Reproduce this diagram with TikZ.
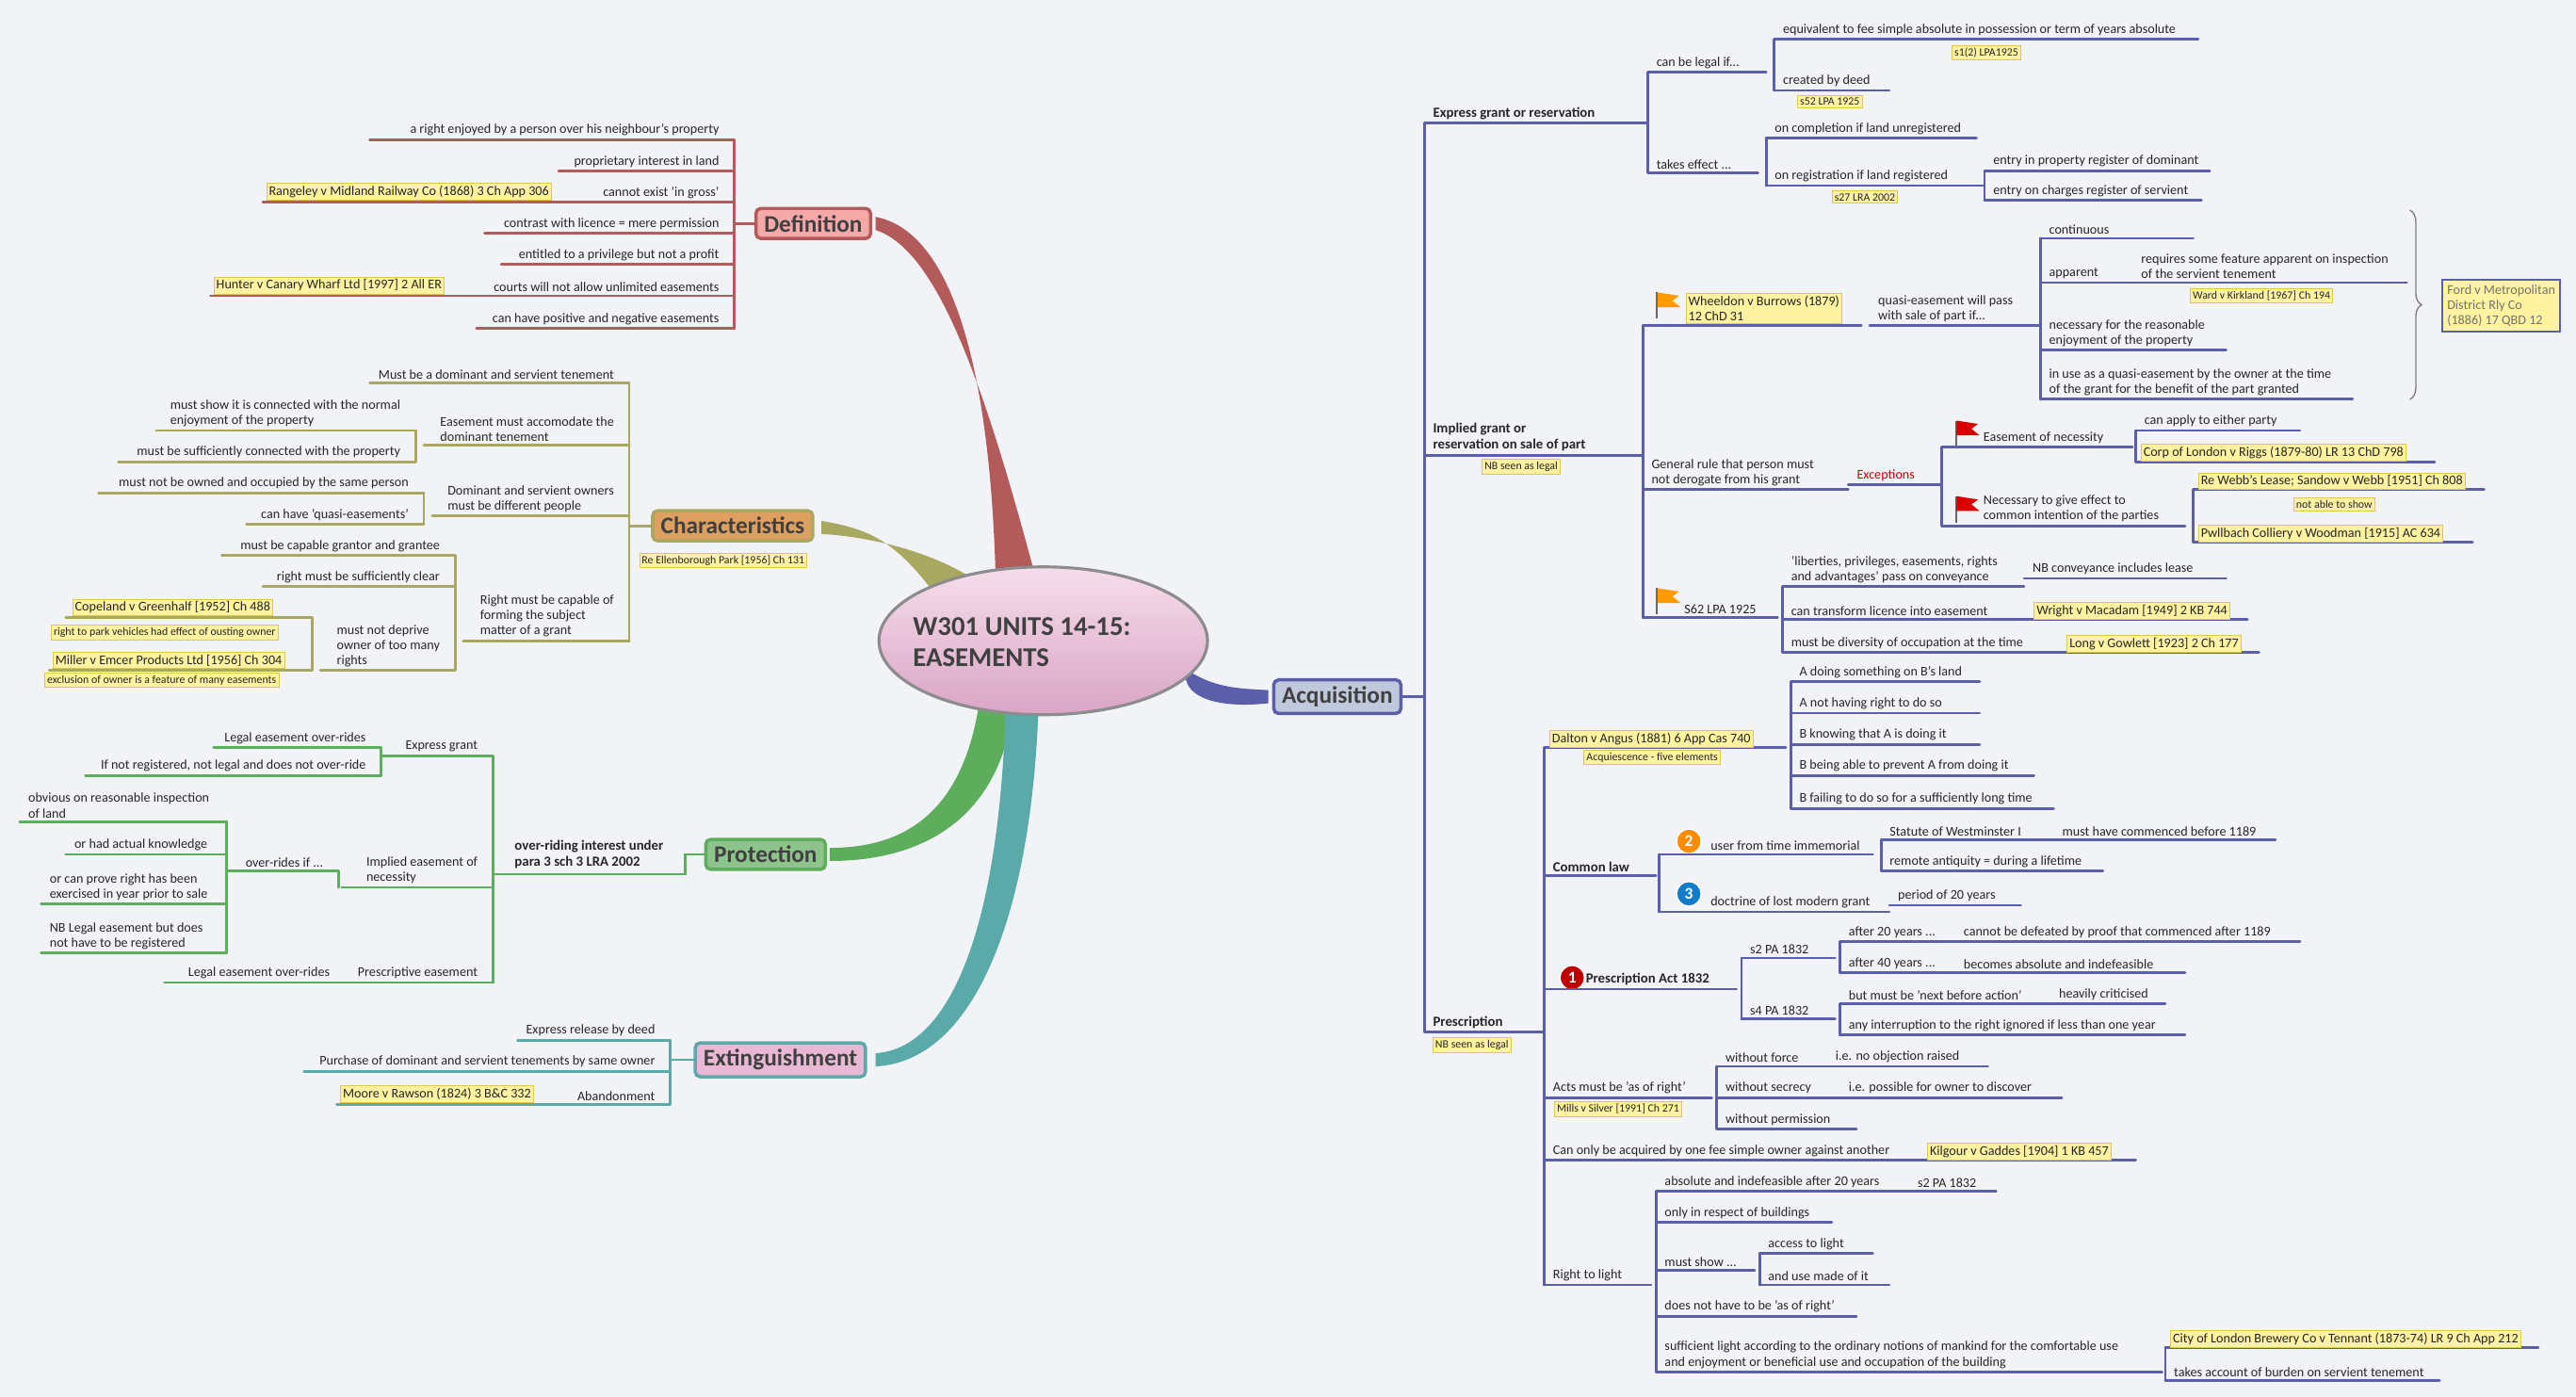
\documentclass[tikz,border=0pt]{standalone}
\usepackage{fontspec}
\setmainfont{Carlito}
\usetikzlibrary{decorations.pathreplacing,shapes.geometric}
\definecolor{acq}{HTML}{5B5EA8}
\definecolor{defc}{HTML}{B35A5A}
\definecolor{chc}{HTML}{A8A860}
\definecolor{prc}{HTML}{5CAE5C}
\definecolor{exc}{HTML}{5AAAAA}
\definecolor{tagf}{HTML}{FFF2A0}
\definecolor{tagd}{HTML}{E0C850}
\definecolor{bg}{HTML}{F2F3F7}
\definecolor{cbot}{HTML}{D9A5C5}
\definecolor{ctop}{HTML}{F6DDEB}
\definecolor{deff}{HTML}{F4A8A8}
\definecolor{chf}{HTML}{DDA060}
\definecolor{prf}{HTML}{8CC48C}
\definecolor{exf}{HTML}{E8B8D4}
\definecolor{acf}{HTML}{C0C8DC}
\tikzset{
 tx/.style={font=\fontsize{8.1}{9.2}\selectfont,text=black!85,inner sep=1.5pt,align=left},
 tag/.style={fill=tagf,draw=tagd,line width=0.4pt,inner sep=1.5pt},
 stag/.style={tx,tag,font=\fontsize{6.8}{7.5}\selectfont},
 bold/.style={font=\fontsize{8.5}{9.8}\selectfont\bfseries},
 main/.style={draw=#1,line width=2pt,rounded corners=3pt,font=\fontsize{14.5}{16}\selectfont\bfseries,text=black!75,inner xsep=5pt,inner ysep=4pt},
}
\newcommand\R[5][]{\draw (#2,#4)--(#3,#4); \node[tx,anchor=south west,#1] at (#2+3,#4) {#5};}
\newcommand\Lt[5][]{\draw (#2,#4)--(#3,#4); \node[tx,anchor=south east,#1] at (#3-7,#4) {#5};}
\newcommand\V[3]{\draw (#1,#2)--(#1,#3);}
\newcommand\T[4][]{\node[stag,anchor=west,#1] at (#2,#3) {#4};}
\newcommand\flag[3]{\fill[black!60] (#1,#2) rectangle (#1+1.2,#2+16);\fill[#3] (#1+1,#2) -- (#1+14,#2+2) -- (#1+10,#2+5) -- (#1+15,#2+9) -- (#1+1,#2+9) -- cycle;}
\newcommand\num[4]{\node[circle,fill=#3,draw=white,line width=0.8pt,text=white,inner sep=0pt,minimum size=15pt,font=\bfseries\fontsize{10}{10}\selectfont] at (#1,#2) {#4};}
\begin{document}
\begin{tikzpicture}[x=1pt,y=-1pt,line cap=round]
\useasboundingbox (0,0) rectangle (1568,850);
\fill[bg] (0,0) rectangle (1568,850);
% main curves
\fill[defc] (606,350) .. controls (602,210) and (575,140) .. (533,132) -- (533,140) .. controls (570,152) and (598,230) .. (630,350) -- cycle;
\fill[chc] (568,360) .. controls (545,330) and (530,322) .. (500,317) -- (500,325) .. controls (520,326) and (560,332) .. (592,352) -- cycle;
\fill[prc] (596,428) .. controls (585,500) and (545,516) .. (505,516) -- (505,524) .. controls (560,524) and (608,500) .. (617,430) -- cycle;
\fill[exc] (612,434) .. controls (608,560) and (580,638) .. (533,641) -- (533,649) .. controls (592,646) and (627,560) .. (632,434) -- cycle;
\fill[acq] (716,403) .. controls (735,418) and (750,419) .. (772,420) -- (772,428) .. controls (745,431) and (725,426) .. (722,414) -- cycle;
% central
\node[ellipse,draw=black!45,line width=1.8pt,top color=ctop,bottom color=cbot,minimum width=200pt,minimum height=90pt] (c) at (635,390) {};
\node[font=\fontsize{16.5}{19}\selectfont\bfseries,text=black!75,align=left] at (622,391) {W301 UNITS 14-15:\\EASEMENTS};
% boxes
\node[main=defc,fill=deff] (def) at (495,136) {Definition};
\node[main=chc,fill=chf] (ch) at (446,320) {Characteristics};
\node[main=prc,fill=prf] (pr) at (466,520) {Protection};
\node[main=exc,fill=exf] (ex) at (475,645) {Extinguishment};
\node[main=acq,fill=acf] (acq) at (814,424) {Acquisition};

% ================= ACQUISITION
\begin{scope}[acq,line width=1.6pt]
\draw (acq.east) -- (867,424);
\V{867}{75}{628}
\R[bold]{867}{1003}{75}{Express grant or reservation}
\V{1003}{44}{105}
\R{1003}{1075}{44}{can be legal if...}
\V{1080}{24}{55}
\R{1080}{1338}{24}{equivalent to fee simple absolute in possession or term of years absolute}
\T{1188}{32}{s1(2) LPA1925}
\R{1080}{1150}{55}{created by deed}
\T{1094}{62}{s52 LPA 1925}
\R{1003}{1070}{105}{takes effect ...}
\V{1075}{84}{113}
\R{1075}{1203}{84}{on completion if land unregistered}
\R{1075}{1208}{113}{on registration if land registered}
\T{1115}{120}{s27 LRA 2002}
\V{1208}{104}{122}
\R{1208}{1345}{104}{entry in property register of dominant}
\R{1208}{1340}{122}{entry on charges register of servient}

\R[bold]{867}{1000}{277}{Implied grant or\\reservation on sale of part}
\T{902}{284}{NB seen as legal}
\V{1000}{198}{376}
\draw (1000,198)--(1133,198);
\flag{1008}{178}{orange!80!yellow}
\node[tx,tag,anchor=south west] at (1026,197) {Wheeldon v Burrows (1879)\\12 ChD 31};
\R{1138}{1242}{198}{quasi-easement will pass\\with sale of part if...}
\V{1242}{145}{243}
\R{1242}{1335}{145}{continuous}
\R{1242}{1298}{172}{apparent}
\R{1298}{1465}{172}{requires some feature apparent on inspection\\of the servient tenement}
\T{1333}{180}{Ward v Kirkland [1967] Ch 194}
\R{1242}{1355}{213}{necessary for the reasonable\\enjoyment of the property}
\R{1242}{1432}{243}{in use as a quasi-easement by the owner at the time\\of the grant for the benefit of the part granted}
\draw[black!50,line width=0.8pt,decorate,decoration={brace,amplitude=7pt}] (1467,128) -- (1467,243);
\node[tx,anchor=west,fill=tagf,draw=acq,line width=1.2pt,text=black!55,inner sep=3pt] at (1486,186) {Ford v Metropolitan\\District Rly Co\\(1886) 17 QBD 12};
\R{1000}{1125}{298}{General rule that person must\\not derogate from his grant}
\R[text=red!80!black]{1125}{1182}{295}{Exceptions}
\V{1182}{272}{320}
\flag{1190}{256}{red!85!black}
\R{1182}{1298}{272}{\hspace{20pt}Easement of necessity}
\V{1300}{262}{281}
\R{1300}{1400}{262}{can apply to either party}
\R[tag]{1300}{1482}{281}{Corp of London v Riggs (1879-80) LR 13 ChD 798}
\flag{1190}{302}{red!85!black}
\R{1182}{1330}{320}{\hspace{20pt}Necessary to give effect to\\\hspace{20pt}common intention of the parties}
\V{1335}{298}{330}
\R[tag]{1335}{1512}{298}{Re Webb's Lease; Sandow v Webb [1951] Ch 808}
\T{1396}{307}{not able to show}
\R[tag]{1335}{1505}{330}{Pwllbach Colliery  v Woodman [1915] AC 634}
\flag{1008}{358}{orange!80!yellow}
\R{1000}{1082}{376}{\hspace{20pt}S62 LPA 1925}
\V{1085}{357}{397}
\R{1085}{1232}{357}{'liberties, privileges, easements, rights\\and advantages' pass on conveyance}
\R{1232}{1355}{352}{NB conveyance includes lease}
\R{1085}{1235}{377}{can transform licence into easement}
\R[tag]{1235}{1368}{377}{Wright v Macadam [1949] 2 KB 744}
\R{1085}{1255}{397}{must be diversity of occupation at the time}
\R[tag]{1255}{1375}{397}{Long v Gowlett [1923] 2 Ch 177}

\R[bold]{867}{940}{628}{Prescription}
\T{872}{636}{NB seen as legal}
\V{940}{455}{782}
\R[tag]{940}{1087}{455}{Dalton v Angus (1881) 6 App Cas 740}
\T{964}{461}{Acquiescence - five elements}
\V{1090}{415}{492}
\R{1090}{1205}{415}{A doing something on B's land}
\R{1090}{1205}{434}{A not having right to do so}
\R{1090}{1205}{453}{B knowing that A is doing it}
\R{1090}{1238}{472}{B being able to prevent A from doing it}
\R{1090}{1250}{492}{B failing to do so for a sufficiently long time}
\R[bold]{940}{1008}{533}{Common law}
\V{1010}{520}{555}
\num{1028}{512}{orange!90!yellow}{2}
\R{1010}{1140}{520}{\hspace{26pt}user from time immemorial}
\V{1145}{511}{530}
\R{1145}{1250}{511}{Statute of Westminster I}
\R{1250}{1385}{511}{must have commenced before 1189}
\R{1145}{1280}{530}{remote antiquity = during a lifetime}
\num{1028}{544}{cyan!60!blue}{3}
\R{1010}{1150}{555}{\hspace{26pt}doctrine of lost modern grant}
\R{1150}{1230}{551}{period of 20 years}
\num{957}{595}{red!75!black}{1}
\R[bold]{940}{1057}{602}{\hspace{20pt}Prescription Act 1832}
\V{1060}{583}{620}
\R{1060}{1117}{583}{s2 PA 1832}
\V{1120}{573}{592}
\R{1120}{1190}{573}{after 20 years ...}
\R{1190}{1400}{573}{cannot be defeated by proof that commenced after 1189}
\R{1120}{1190}{592}{after 40 years ...}
\R{1190}{1330}{592}{becomes absolute and indefeasible}
\R{1060}{1117}{620}{s4 PA 1832}
\V{1120}{611}{630}
\R{1120}{1248}{611}{but must be 'next before action'}
\R{1248}{1318}{611}{heavily criticised}
\R{1120}{1330}{630}{any interruption to the right ignored if less than one year}
\R{940}{1042}{668}{Acts must be 'as of right'}
\T{946}{675}{Mills v Silver [1991] Ch 271}
\V{1045}{649}{687}
\R{1045}{1112}{649}{without force}
\R{1112}{1210}{649}{i.e. no objection raised}
\R{1045}{1120}{668}{without secrecy}
\R{1120}{1255}{668}{i.e. possible for owner to discover}
\R{1045}{1130}{687}{without permission}
\draw (940,687)--(940,782);
\R{940}{1170}{706}{Can only be acquired by one fee simple owner against another}
\R[tag]{1170}{1300}{706}{Kilgour v Gaddes [1904] 1 KB 457}
\R{940}{1005}{782}{Right to light}
\V{1008}{725}{835}
\R{1008}{1162}{725}{absolute and indefeasible after 20 years}
\R{1162}{1215}{725}{s2 PA 1832}
\R{1008}{1115}{744}{only in respect of buildings}
\R{1008}{1068}{773}{must show ...}
\V{1071}{763}{782}
\R{1071}{1140}{763}{access to light}
\R{1071}{1150}{782}{and use made of it}
\R{1008}{1130}{801}{does not have to be 'as of right'}
\R{1008}{1316}{835}{sufficient light according to the ordinary notions of mankind for the comfortable use\\and enjoyment or beneficial use and occupation of the building}
\V{1318}{820}{840}
\R[tag]{1318}{1545}{820}{City of London Brewery Co v Tennant (1873-74) LR 9 Ch App 212}
\R{1318}{1485}{840}{takes account of burden on servient tenement}
\end{scope}

% ================= DEFINITION
\begin{scope}[defc,line width=1.6pt]
\draw (def.west) -- (447,136);
\V{447}{85}{200}
\Lt{225}{447}{85}{a right enjoyed by a person over his neighbour's property}
\Lt{340}{447}{104}{proprietary interest in land}
\Lt{160}{447}{123}{cannot exist 'in gross'}
\node[tx,tag,anchor=south west] at (162,122) {Rangeley v Midland Railway Co (1868) 3 Ch App 306};
\Lt{295}{447}{142}{contrast with licence = mere permission}
\Lt{305}{447}{161}{entitled to a privilege but not a profit}
\Lt{128}{447}{180}{courts will not allow unlimited easements}
\node[tx,tag,anchor=south west] at (130,179) {Hunter v Canary Wharf Ltd [1997] 2 All ER};
\Lt{290}{447}{200}{can have positive and negative easements}
\end{scope}

% ================= CHARACTERISTICS
\begin{scope}[chc,line width=1.6pt]
\draw (ch.west) -- (383,320);
\T{389}{341}{Re Ellenborough Park [1956] Ch 131}
\V{383}{233}{390}
\Lt{225}{383}{233}{Must be a dominant and servient tenement}
\Lt{258}{383}{271}{Easement must accomodate the\\dominant tenement}
\V{253}{262}{281}
\Lt{95}{253}{262}{must show it is connected with the normal\\enjoyment of the property}
\Lt{72}{253}{281}{must be sufficiently connected with the property}
\Lt{263}{383}{314}{Dominant and servient owners\\must be different people}
\V{258}{300}{319}
\Lt{60}{258}{300}{must not be owned and occupied by the same person}
\Lt{150}{258}{319}{can have 'quasi-easements'}
\Lt{282}{383}{390}{Right must be capable of\\forming the subject\\matter of a grant}
\V{277}{338}{408}
\Lt{135}{277}{338}{must be capable grantor and grantee}
\Lt{160}{277}{357}{right must be sufficiently clear}
\Lt{195}{277}{408}{must not deprive\\owner of too many\\rights}
\V{190}{376}{408}
\draw (40,376)--(190,376); \node[tx,tag,anchor=south west] at (44,375) {Copeland v Greenhalf [1952] Ch 488};
\T{31}{385}{right to park vehicles had effect of ousting owner}
\draw (30,408)--(190,408); \node[tx,tag,anchor=south west] at (32,407) {Miller v Emcer Products Ltd [1956] Ch 304};
\T{27}{414}{exclusion of owner is a feature of many easements}
\end{scope}

% ================= PROTECTION
\begin{scope}[prc,line width=1.6pt]
\draw (pr.west) -| (417,532) -- (300,532);
\node[tx,bold,anchor=south west] at (311,531) {over-riding interest under\\para 3 sch 3 LRA 2002};
\V{300}{460}{598}
\Lt{232}{300}{460}{Express grant}
\V{232}{455}{472}
\Lt{130}{232}{455}{Legal easement over-rides}
\Lt{52}{232}{472}{If not registered, not legal and does not over-ride}
\Lt{208}{300}{540}{Implied easement of\\necessity}
\V{206}{530}{540}
\Lt{138}{206}{530}{over-rides if ...}
\V{138}{500}{580}
\R{12}{138}{500}{obvious on reasonable inspection\\of land}
\R{40}{138}{520}{or had actual knowledge}
\R{25}{138}{550}{or can prove right has been\\exercised in year prior to sale}
\R{25}{138}{580}{NB Legal easement but does\\not have to be registered}
\Lt{210}{300}{598}{Prescriptive easement}
\Lt{100}{210}{598}{Legal easement over-rides}
\end{scope}

% ================= EXTINGUISHMENT
\begin{scope}[exc,line width=1.6pt]
\draw (ex.west) -- (408,645);
\V{408}{633}{672}
\Lt{315}{408}{633}{Express release by deed}
\Lt{185}{408}{652}{Purchase of dominant and servient tenements by same owner}
\Lt{332}{408}{672}{Abandonment}
\draw (205,672)--(332,672); \node[tx,tag,anchor=south west] at (207,671) {Moore v Rawson (1824) 3 B\&C 332};
\end{scope}
\end{tikzpicture}
\end{document}
